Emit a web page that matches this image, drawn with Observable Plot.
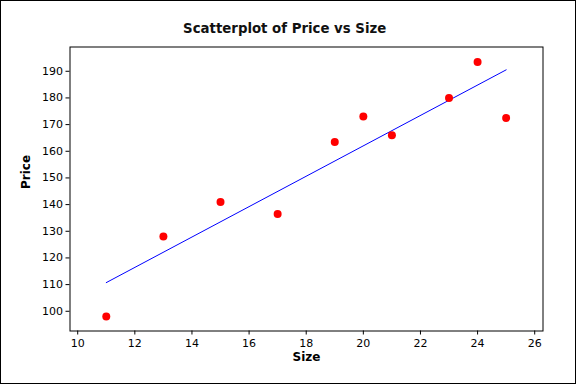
<!DOCTYPE html>
<html>
<head>
<meta charset="utf-8">
<script src="https://cdn.jsdelivr.net/npm/d3@7"></script>
<script src="https://cdn.jsdelivr.net/npm/@observablehq/plot@0.6"></script>
<style>
  html, body { margin: 0; padding: 0; background: white; }
  #wrap { position: relative; width: 574px; height: 382px; border: 1px solid black; background: white; overflow: hidden; }
  #title { position: absolute; left: 0; top: 19.8px; width: 567.4px; text-align: center; font: bold 14.8px/14.8px "DejaVu Sans Condensed", "DejaVu Sans", sans-serif; color: #111; white-space: nowrap; z-index: 2; }
  #wrap svg { position: absolute; left: 0; top: 0; }
</style>
</head>
<body>
<div id="wrap"><div id="title"></div></div>
<script>
const titleText = "Scatterplot of Price vs Size";
const xLabel = "Size";
const yLabel = "Price";
const sizes = [11, 13, 15, 17, 19, 20, 21, 23, 24, 25];
const prices = [98, 128, 141, 136.5, 163.5, 173, 166, 180, 193.5, 172.5];
const xTicks = [10, 12, 14, 16, 18, 20, 22, 24, 26];
const yTicks = [100, 110, 120, 130, 140, 150, 160, 170, 180, 190];

const data = sizes.map((s, i) => ({Size: s, Price: prices[i]}));
document.getElementById("title").textContent = titleText;

const chart = Plot.plot({
  width: 574,
  height: 382,
  marginLeft: 68.5,
  marginRight: 32.5,
  marginTop: 45.5,
  marginBottom: 52.5,
  style: {fontFamily: "DejaVu Sans, sans-serif", fontSize: "11px", background: "transparent", color: "black"},
  x: {domain: [9.73, 26.29], ticks: xTicks, tickSize: 4, tickPadding: 4, label: null},
  y: {domain: [92.6, 199.1], ticks: yTicks, tickSize: 4, tickPadding: 3, label: null},
  marks: [
    Plot.frame({stroke: "black", strokeWidth: 1}),
    Plot.linearRegressionY(data, {x: "Size", y: "Price", stroke: "blue", strokeWidth: 1, ci: 0}),
    Plot.dot(data, {x: "Size", y: "Price", r: 4, fill: "red", stroke: "none"}),
    Plot.text([xLabel], {text: d => d, frameAnchor: "bottom", dy: 30, fontWeight: "bold", fontSize: 12}),
    Plot.text([yLabel], {text: d => d, frameAnchor: "left", dx: -44, rotate: -90, fontWeight: "bold", fontSize: 12})
  ]
});
document.getElementById("wrap").appendChild(chart);
</script>
</body>
</html>
